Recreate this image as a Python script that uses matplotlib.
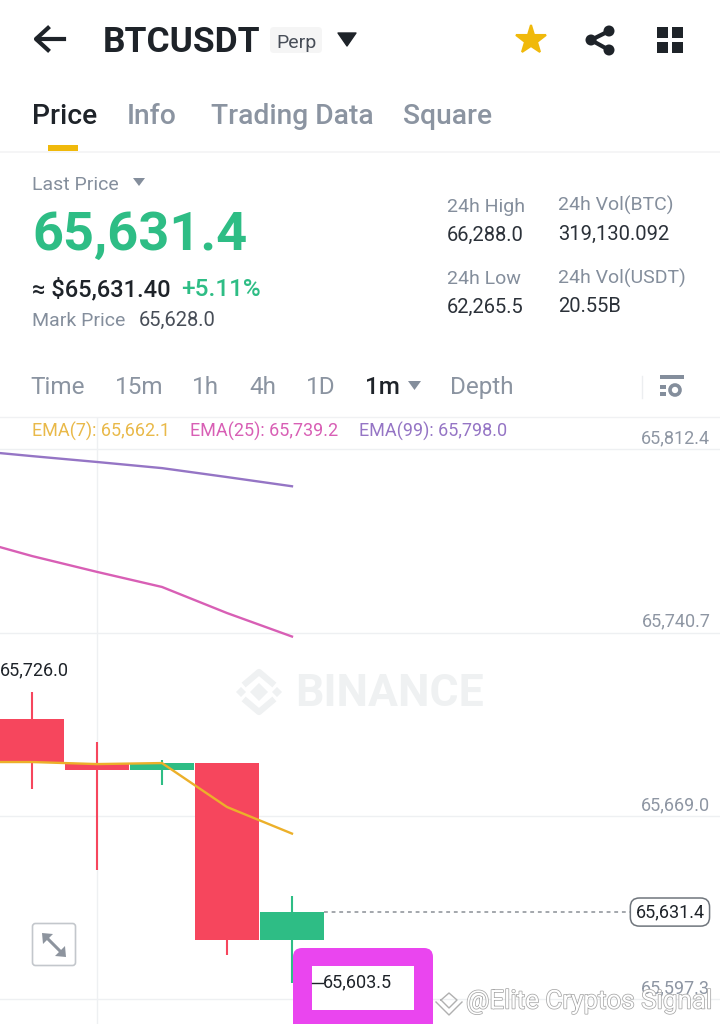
import matplotlib
matplotlib.use("Agg")
import matplotlib.pyplot as plt
import matplotlib.patheffects as pe
from matplotlib.patches import Rectangle, FancyBboxPatch, Circle, Polygon
from matplotlib.transforms import ScaledTranslation

plt.rcParams['font.family'] = ['Roboto', 'DejaVu Sans']

# candles
candle_x = [0, 1, 2, 3, 4]
opens = [65706.9, 65689.7, 65687.0, 65689.7, 65620.5]
closes = [65689.7, 65687.0, 65689.7, 65620.5, 65631.4]
highs = [65717.5, 65697.9, 65690.9, 65689.7, 65637.7]
lows = [65679.6, 65647.9, 65681.1, 65614.6, 65603.5]

# moving averages, first point is the candle left of the screen
ema_x = [-1, 0, 1, 2, 3, 4]
ema7 = [65690.1, 65690.1, 65689.3, 65689.7, 65672.5, 65662.1]
ema25 = [65777.8, 65770.7, 65764.5, 65758.6, 65748.4, 65739.2]
ema99 = [65812.2, 65809.8, 65807.5, 65805.1, 65801.6, 65798.0]

price_ticks = [65812.4, 65740.7, 65669.0, 65597.3]
price_labels = ['65,812.4', '65,740.7', '65,669.0', '65,597.3']
last_price = 65631.4
peak_price = 65726.0

time_tabs = ['Time', '15m', '1h', '4h', '1D', '1m', 'Depth']
time_tab_x = [30, 115, 192, 249, 306, 365, 450]
main_tabs = ['Price', 'Info', 'Trading Data', 'Square']
main_tab_x = [32, 127, 211, 403]

DARK = '#1e2329'
GREY = '#848e9c'
GREEN = '#2ebd85'
RED = '#f6465d'
YELLOW = '#f0b90b'
PINK = '#d85fb5'
PURPLE = '#9575c5'
GRID = '#eef0f2'
MARK = '#eff1f2'

fig = plt.figure(figsize=(7.2, 10.24), dpi=100, facecolor='white')

# chart area, y 417..1024 in pixels
ax = fig.add_axes([0, 0, 1, 607 / 1024], zorder=1)
ax.set_facecolor('none')
ax.set_xlim(-0.492, 10.585)
ax.set_ylim(65587.6, 65825.1)
for s in ax.spines.values():
    s.set_visible(False)
ax.set_xticks([1])
ax.set_xticklabels([])
ax.set_yticks(price_ticks)
ax.set_yticklabels(price_labels, color='#8e96a3', fontsize=13, ha='right', va='bottom')
ax.yaxis.tick_right()
ax.tick_params(axis='both', length=0, pad=-7)
ax.grid(True, color=GRID, lw=1)
ax.set_axisbelow(True)
shift = ScaledTranslation(0, 2 / 100, fig.dpi_scale_trans)
for lab in ax.get_yticklabels():
    lab.set_transform(lab.get_transform() + shift)

colors = [GREEN if c >= o else RED for o, c in zip(opens, closes)]
ax.vlines(candle_x, lows, highs, colors=colors, lw=1.5, zorder=2)
ax.bar(candle_x, [abs(c - o) for o, c in zip(opens, closes)],
       bottom=[min(o, c) for o, c in zip(opens, closes)],
       width=0.97, color=colors, zorder=3)
ax.plot(ema_x, ema99, color=PURPLE, lw=1.7, zorder=4)
ax.plot(ema_x, ema25, color=PINK, lw=1.7, zorder=4)
ax.plot(ema_x, ema7, color='#ecb02a', lw=1.7, zorder=4)

ax.hlines(last_price, 4.49, 9.2, colors='#8a8f96', lw=1.1, linestyles=(0, (2.5, 2.5)), zorder=2)
ax.text(9.815, last_price, '65,631.4', fontsize=13, color=DARK, ha='center', va='center', zorder=6,
        bbox=dict(boxstyle='round,pad=0.28,rounding_size=0.5', fc='white', ec='#6f757c', lw=1.1))
ax.text(-0.5, peak_price, '65,726.0', fontsize=13, color=DARK, ha='left', va='center', zorder=6)

# everything else is placed in screen pixels
ui = fig.add_axes([0, 0, 1, 1], zorder=2)
ui.set_xlim(0, 720)
ui.set_ylim(1024, 0)
ui.axis('off')


def label(x, y, s, size, color=DARK, weight='normal', ha='left', **kw):
    return ui.text(x, y + 1.5, s, fontsize=size, color=color, fontweight=weight, ha=ha, va='center', **kw)


# header
ui.plot([37, 64], [39, 39], color=DARK, lw=3)
ui.plot([48, 36, 48], [28, 39, 50], color=DARK, lw=3)
label(103, 41, 'BTCUSDT', 25.5, weight='bold')
ui.add_patch(FancyBboxPatch((270, 27), 52, 26, boxstyle='round,pad=0,rounding_size=4', fc='#f5f5f5', ec='none'))
label(296, 41, 'Perp', 14, color='#474d57', ha='center')
ui.add_patch(Polygon([[338, 33], [356, 33], [347, 46]], fc=DARK, ec=DARK, lw=1, joinstyle='round'))
ui.plot([531], [40], marker='*', ms=22, color=YELLOW, mec=YELLOW, mew=1.5)
ui.plot([609, 591, 609], [31, 40, 50], color=DARK, lw=3)
for cx, cy in [(609, 31), (591, 40), (609, 50)]:
    ui.add_patch(Circle((cx, cy), 5.5, fc=DARK, ec='none'))
for sx, sy in [(657, 27), (672, 27), (657, 42), (672, 42)]:
    ui.add_patch(Rectangle((sx, sy), 11, 11, fc=DARK, ec='none'))

# tabs
for i, (s, x) in enumerate(zip(main_tabs, main_tab_x)):
    label(x, 115, s, 20.3, color=DARK if i == 0 else '#8b94a1', weight='medium')
ui.add_patch(Rectangle((48, 145), 30, 6, fc=YELLOW, ec='none'))
ui.plot([0, 720], [152, 152], color='#f3f4f5', lw=1.2)

# price block
label(32, 184, 'Last Price', 14, color=GREY)
ui.add_patch(Polygon([[133, 178], [145, 178], [139, 186]], fc=GREY, ec='none'))
label(32, 234, '65,631.4', 39, color=GREEN, weight='bold')
label(32, 288, '≈ $65,631.40', 17, weight='medium')
label(181, 288, '+5.11%', 17.5, color=GREEN, weight='medium')
label(32, 319, 'Mark Price', 14, color=GREY)
label(139, 319, '65,628.0', 14.5, color='#474d57')

label(447, 206, '24h High', 14, color=GREY)
label(447, 234, '66,288.0', 14.5, color='#2b3139')
label(447, 278, '24h Low', 14, color=GREY)
label(447, 306, '62,265.5', 14.5, color='#2b3139')
label(558, 204, '24h Vol(BTC)', 14, color=GREY)
label(558, 233, '319,130.092', 14.5, color='#2b3139')
label(558, 277, '24h Vol(USDT)', 14, color=GREY)
label(558, 305, '20.55B', 14.5, color='#2b3139')

# interval row
for s, x in zip(time_tabs, time_tab_x):
    on = s == '1m'
    label(x, 386, s, 17.5, color=DARK if on else '#8b94a1', weight='medium' if on else 'normal')
ui.add_patch(Polygon([[408, 381], [421, 381], [414.5, 390]], fc=GREY, ec='none'))
ui.plot([642, 642], [376, 398], color='#eceef0', lw=1)
ui.add_patch(Rectangle((660, 375), 24, 3.5, fc=GREY, ec='none'))
ui.add_patch(Rectangle((660, 385), 6, 3.5, fc=GREY, ec='none'))
ui.add_patch(Rectangle((660, 392), 6, 3.5, fc=GREY, ec='none'))
ui.add_patch(Circle((675, 390), 5, fc='white', ec=GREY, lw=2.6))
ui.plot([0, 720], [417, 417], color='#f0f1f3', lw=1)

# legend
label(32, 430, 'EMA(7): 65,662.1', 13, color='#e9b949')
label(190, 430, 'EMA(25): 65,739.2', 13, color=PINK)
label(359, 430, 'EMA(99): 65,798.0', 13, color=PURPLE)

# watermark
ui.add_patch(Polygon([[259, 683], [268, 692], [259, 701], [250, 692]], fc=MARK, ec='none'))
ui.add_patch(Polygon([[241, 687], [246, 692], [241, 697], [236, 692]], fc=MARK, ec='none'))
ui.add_patch(Polygon([[277, 687], [282, 692], [277, 697], [272, 692]], fc=MARK, ec='none'))
ui.plot([246, 259, 272], [683, 672, 683], color=MARK, lw=4.5)
ui.plot([246, 259, 272], [701, 712, 701], color=MARK, lw=4.5)
label(295, 692, 'BINANCE', 32, color=MARK, weight='bold')

# expand button
ui.add_patch(FancyBboxPatch((32.5, 923.5), 43, 42, boxstyle='round,pad=0,rounding_size=3', fc='white', ec='#c3c7cc', lw=1.2))
ui.plot([47, 61], [938, 952], color='#8d949e', lw=2.2)
ui.add_patch(Polygon([[42, 933], [53, 934], [43, 944]], fc='#8d949e', ec='none'))
ui.add_patch(Polygon([[66, 957], [55, 956], [65, 946]], fc='#8d949e', ec='none'))

# magenta highlight around the low
ui.add_patch(FancyBboxPatch((293, 948), 140, 90, boxstyle='round,pad=0,rounding_size=9', fc='#ea45ef', ec='none'))
ui.add_patch(Rectangle((312, 966), 102, 44, fc='white', ec='none'))
ui.plot([312, 323], [983, 983], color=DARK, lw=1)
label(323, 981, '65,603.5', 13)

# repost mark
outline = [pe.withStroke(linewidth=1.1, foreground='#a6a6a6')]
label(466, 1000, '@Elite Cryptos Signal', 18.7, color='white', path_effects=outline)
ui.plot([436, 449, 462], [1002, 1015, 1002], color='#b0b0b0', lw=1)
ui.plot([441, 449, 457, 449, 441], [1000, 993, 1000, 1008, 1000], color='#b0b0b0', lw=1)

fig.savefig('out.png', dpi=100)
